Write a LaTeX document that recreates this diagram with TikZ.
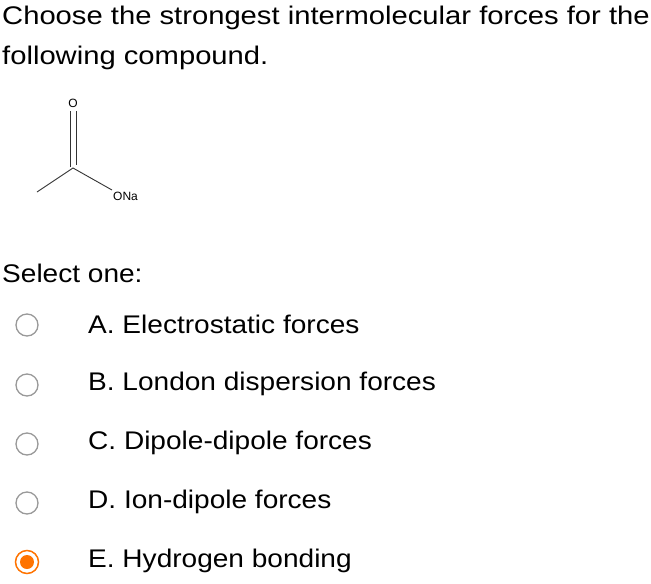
\documentclass[tikz,border=0pt]{standalone}
\usepackage{fontspec}
\setmainfont{Liberation Sans}
\newcommand{\wtxt}[2][1.1]{\scalebox{#1}[1]{#2}}
\begin{document}
\begin{tikzpicture}[x=1pt,y=-1pt,
  txt/.style={anchor=west,inner sep=0pt,font=\fontsize{25.5}{28}\selectfont},
  radio/.style={circle,draw=gray!80,line width=1.3pt,minimum size=22pt,inner sep=0pt},
  bond/.style={line width=0.9pt,black!80}]
\useasboundingbox (0,0) rectangle (651,584);
\node[txt] (t1) at (2,18) {\wtxt[1.145]{Choose the strongest intermolecular forces for the}};
\node[txt] (t2) at (2,58) {\wtxt[1.145]{following compound.}};
% molecule
\coordinate (L) at (37,192);
\coordinate (C) at (73,168);
\coordinate (R) at (112,190);
\node[inner sep=0pt,font=\fontsize{12}{13}\selectfont] (O) at (73,103) {O};
\node[inner sep=0pt,anchor=west,font=\fontsize{12}{13}\selectfont] (ONa) at (113,196) {ONa};
\draw[bond] (L) -- (C) -- (R);
\draw[bond] (70,111) -- (70,167);
\draw[bond] (76,111) -- (76,165);
\node[txt] (sel) at (2,273) {\wtxt{Select one:}};
\node[radio] (ra) at (27,325) {};
\node[radio] (rb) at (27,385) {};
\node[radio] (rc) at (27,444) {};
\node[radio] (rd) at (27,503) {};
\node[circle,draw=orange!90!red,line width=1.5pt,minimum size=23pt,inner sep=0pt] (re) at (27,562) {};
\node[circle,fill=orange!90!red,minimum size=14pt,inner sep=0pt] (red) at (27,562) {};
\node[txt] (a) at (88,324) {\wtxt{A. Electrostatic forces}};
\node[txt] (b) at (88,384) {\wtxt{B. London dispersion forces}};
\node[txt] (c) at (88,443) {\wtxt{C. Dipole-dipole forces}};
\node[txt] (d) at (88,502) {\wtxt{D. Ion-dipole forces}};
\node[txt] (e) at (88,561) {\wtxt{E. Hydrogen bonding}};
\end{tikzpicture}
\end{document}
